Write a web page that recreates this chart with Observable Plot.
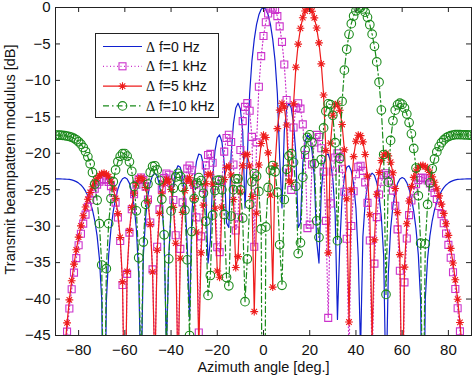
<!DOCTYPE html>
<html><head><meta charset="utf-8">
<script src="https://cdn.jsdelivr.net/npm/d3@7"></script>
<script src="https://cdn.jsdelivr.net/npm/@observablehq/plot@0.6"></script>
<style>body{margin:0;background:#fff} #chart svg{display:block}</style>
</head><body><div id="chart"></div>
<script>
const angles = [-90,-89,-88,-87,-86,-85,-84,-83,-82,-81,-80,-79,-78,-77,-76,-75,-74,-73,-72,-71,-70,-69,-68,-67,-66,-65,-64,-63,-62,-61,-60,-59,-58,-57,-56,-55,-54,-53,-52,-51,-50,-49,-48,-47,-46,-45,-44,-43,-42,-41,-40,-39,-38,-37,-36,-35,-34,-33,-32,-31,-30,-29,-28,-27,-26,-25,-24,-23,-22,-21,-20,-19,-18,-17,-16,-15,-14,-13,-12,-11,-10,-9,-8,-7,-6,-5,-4,-3,-2,-1,0,1,2,3,4,5,6,7,8,9,10,11,12,13,14,15,16,17,18,19,20,21,22,23,24,25,26,27,28,29,30,31,32,33,34,35,36,37,38,39,40,41,42,43,44,45,46,47,48,49,50,51,52,53,54,55,56,57,58,59,60,61,62,63,64,65,66,67,68,69,70,71,72,73,74,75,76,77,78,79,80,81,82,83,84,85,86,87,88,89,90];

// Δf = 0 Hz
const df0Hz = [-23.52,-23.52,-23.52,-23.53,-23.54,-23.56,-23.59,-23.65,-23.75,-23.89,
-24.09,-24.35,-24.72,-25.20,-25.84,-26.68,-27.78,-29.26,-31.34,-34.45,
-40.0,-67.95,-40.28,-33.98,-30.40,-27.94,-26.18,-24.90,-24.03,-23.50,
-23.33,-23.52,-24.13,-25.28,-27.19,-30.38,-36.64,-52.97,-34.13,-28.78,
-25.80,-24.01,-23.03,-22.73,-23.13,-24.35,-26.74,-31.42,-47.01,-34.32,
-27.54,-24.22,-22.44,-21.71,-21.92,-23.22,-26.10,-32.67,-42.80,-28.29,
-23.52,-21.12,-20.10,-20.23,-21.67,-25.19,-35.06,-32.02,-23.40,-19.68,
-17.88,-17.47,-18.41,-21.35,-29.54,-30.17,-20.09,-15.91,-13.80,-13.13,
-13.92,-16.95,-27.5,-20.58,-11.84,-7.28,-4.37,-2.32,-1.0,-0.24,
0,
-0.24,-1.0,-2.32,-4.37,-7.28,-11.84,-20.58,-27.5,-16.95,-13.92,
-13.13,-13.80,-15.91,-20.09,-30.17,-29.54,-21.35,-18.41,-17.47,-17.88,
-19.68,-23.40,-32.02,-35.06,-25.19,-21.67,-20.23,-20.10,-21.12,-23.52,
-28.29,-42.80,-32.67,-26.10,-23.22,-21.92,-21.71,-22.44,-24.22,-27.54,
-34.32,-47.01,-31.42,-26.74,-24.35,-23.13,-22.73,-23.03,-24.01,-25.80,
-28.78,-34.13,-52.97,-36.64,-30.38,-27.19,-25.28,-24.13,-23.52,-23.33,
-23.50,-24.03,-24.90,-26.18,-27.94,-30.40,-33.98,-40.28,-67.95,-40.0,
-34.45,-31.34,-29.26,-27.78,-26.68,-25.84,-25.20,-24.72,-24.35,-24.09,
-23.89,-23.75,-23.65,-23.59,-23.56,-23.54,-23.53,-23.52,-23.52,-23.52];

// Δf = 1 kHz
const df1kHz = [-100,-72.7,-60.3,-53.3,-48.3,-44.47,-41.30,-38.65,-36.37,-34.38,
-32.61,-31.05,-29.65,-28.42,-27.33,-26.37,-25.54,-24.86,-24.30,-23.89,
-23.62,-23.52,-23.61,-23.92,-24.50,-25.41,-26.77,-28.81,-32.04,-38.07,
-59.90,-36.54,-30.89,-27.68,-25.63,-24.30,-23.56,-23.33,-23.65,-24.57,
-26.35,-29.50,-35.93,-49.73,-32.82,-27.70,-24.93,-23.41,-22.77,-22.95,
-24.03,-26.40,-31.24,-49.67,-33.11,-26.74,-23.64,-22.10,-21.68,-22.32,
-24.34,-28.80,-44.59,-31.40,-24.74,-21.66,-20.24,-20.08,-21.29,-24.45,
-32.89,-33.56,-23.75,-19.77,-17.90,-17.46,-18.45,-21.55,-30.59,-28.78,
-19.56,-15.59,-13.64,-13.12,-14.17,-17.75,-32.82,-18.50,-10.88,-6.67,
-3.91,
-2.03,-0.82,-0.16,-0.01,-0.34,-1.19,-2.59,-4.72,-7.83,-12.70,
-22.63,-25.02,-16.46,-13.77,-13.13,-13.87,-16.03,-20.24,-30.27,-29.79,
-21.52,-18.53,-17.47,-17.76,-19.31,-22.52,-29.28,-42.58,-26.88,-22.51,
-20.58,-20.01,-20.50,-22.12,-25.28,-31.72,-48.35,-29.97,-25.20,-22.88,
-21.85,-21.72,-22.41,-23.99,-26.80,-31.96,-48.91,-35.14,-28.76,-25.66,
-23.91,-23.02,-22.73,-22.99,-23.77,-25.13,-27.20,-30.44,-36.12,-59.52,
-37.71,-31.69,-28.49,-26.47,-25.14,-24.24,-23.69,-23.40,-23.33,-23.44,
-23.73,-24.15,-24.72,-25.43,-26.27,-27.24,-28.35,-29.59,-31.00,-32.57,
-34.34,-36.33,-38.62,-41.27,-44.44,-48.28,-53.27,-60.3,-72.7,-100];

// Δf = 5 kHz
const df5kHz = [-100,-71.5,-59.1,-52.1,-47.1,-43.27,-40.11,-37.48,-35.21,-33.24,
-31.50,-29.96,-28.58,-27.38,-26.31,-25.38,-24.59,-23.93,-23.41,-23.03,
-22.80,-22.74,-22.86,-23.21,-23.83,-24.78,-26.19,-28.28,-31.55,-37.64,
-59.52,-36.21,-30.60,-27.44,-25.46,-24.19,-23.50,-23.33,-23.72,-24.70,
-26.56,-29.77,-36.26,-50.12,-33.30,-28.25,-25.55,-24.10,-23.54,-23.80,
-24.96,-27.42,-32.34,-50.86,-34.40,-28.11,-25.11,-23.66,-23.35,-24.11,
-26.22,-30.81,-46.72,-33.65,-27.12,-24.17,-22.89,-22.88,-24.23,-27.55,
-36.16,-37.01,-27.39,-23.62,-21.96,-21.75,-22.99,-26.35,-35.68,-34.18,
-25.31,-21.72,-20.19,-20.15,-21.74,-25.93,-41.72,-28.22,-21.61,-18.66,
-17.50,
-17.83,-19.95,-25.73,-38.36,-21.71,-16.62,-14.08,-13.14,-13.64,-16.13,
-23.81,-24.00,-13.22,-8.20,-5.02,-2.85,-1.40,-0.48,-0.05,-0.06,
-0.51,-1.42,-2.82,-4.85,-7.73,-12.01,-19.64,-33.67,-18.61,-14.78,
-13.35,-13.20,-14.09,-16.05,-19.53,-26.26,-43.15,-25.01,-20.46,-18.35,
-17.52,-17.58,-18.43,-20.16,-23.13,-28.43,-45.52,-31.88,-25.62,-22.63,
-20.99,-20.20,-20.01,-20.36,-21.23,-22.68,-24.83,-28.14,-33.90,-57.36,
-35.62,-29.67,-26.54,-24.58,-23.30,-22.45,-21.94,-21.70,-21.68,-21.84,
-22.17,-22.63,-23.24,-23.98,-24.86,-25.85,-26.98,-28.24,-29.67,-31.26,
-33.05,-35.06,-37.36,-40.02,-43.21,-47.06,-52.05,-59.1,-71.5,-100];

// Δf = 10 kHz
const df10kHz = [-17.50,-17.50,-17.51,-17.54,-17.58,-17.63,-17.70,-17.80,-17.96,-18.15,
-18.42,-18.75,-19.20,-19.76,-20.49,-21.43,-22.63,-24.22,-26.44,-29.66,
-35.33,-63.4,-35.83,-29.66,-26.21,-23.90,-22.29,-21.15,-20.42,-20.05,
-20.04,-20.39,-21.17,-22.47,-24.55,-27.90,-34.34,-50.85,-32.18,-27.01,
-24.22,-22.61,-21.81,-21.71,-22.29,-23.71,-26.30,-31.18,-46.97,-34.48,
-27.91,-24.81,-23.25,-22.74,-23.17,-24.69,-27.81,-34.62,-45.00,-30.74,
-26.22,-24.09,-23.34,-23.75,-25.49,-29.32,-39.50,-36.77,-28.49,-25.12,
-23.70,-23.67,-25.02,-28.39,-37.04,-38.18,-28.61,-24.99,-23.50,-23.50,
-25.03,-28.88,-40.36,-34.50,-27.00,-23.92,-22.79,-23.15,-25.23,-30.38,
-100,
-30.10,-24.69,-22.33,-21.68,-22.53,-25.34,-32.55,-38.12,-26.35,-22.20,
-20.36,-20.05,-21.24,-24.54,-33.76,-32.29,-23.29,-19.55,-17.83,-17.47,
-18.48,-21.43,-29.27,-31.53,-20.86,-16.52,-14.22,-13.22,-13.33,-14.78,
-18.55,-31.99,-20.71,-12.88,-8.60,-5.73,-3.68,-2.22,-1.17,-0.46,
-0.09,0,-0.19,-0.64,-1.35,-2.36,-3.66,-5.33,-7.46,-10.24,
-14.07,-20.17,-39.36,-23.96,-18.23,-15.54,-14.08,-13.35,-13.13,-13.29,
-13.79,-14.62,-15.79,-17.33,-19.34,-22.02,-25.83,-32.33,-60.2,-32.41,
-27.02,-24.06,-22.13,-20.78,-19.81,-19.08,-18.55,-18.17,-17.88,-17.70,
-17.58,-17.50,-17.45,-17.44,-17.45,-17.46,-17.48,-17.48,-17.50,-17.50];

const seriesNames = ["\u0394 f=0 Hz", "\u0394 f=1 kHz", "\u0394 f=5 kHz", "\u0394 f=10 kHz"];
const xTicks = [-80, -60, -40, -20, 0, 20, 40, 60, 80];
const yTicks = [0, -5, -10, -15, -20, -25, -30, -35, -40, -45];

const BLUE = "#1020d0", MAG = "#cc33cc", RED = "#ee1c1c", GRN = "#1a8a1a";

const rows = (vals) => angles.map((a, i) => ({angle: a, db: vals[i]}));
const r0 = rows(df0Hz), r1 = rows(df1kHz), r5 = rows(df5kHz), r10 = rows(df10kHz);

// 8-arm asterisk like MATLAB '*'
const asterisk8 = {
  draw(ctx, size) {
    const r = Math.sqrt(size / Math.PI);
    const d = r * Math.SQRT1_2;
    ctx.moveTo(-r, 0); ctx.lineTo(r, 0);
    ctx.moveTo(0, -r); ctx.lineTo(0, r);
    ctx.moveTo(-d, -d); ctx.lineTo(d, d);
    ctx.moveTo(-d, d); ctx.lineTo(d, -d);
  }
};

const tx = 5 / (416 / 180); // 5px in degrees
const ty = 5 / (328 / 45);  // 5px in dB

const plot = Plot.plot({
  width: 474, height: 376,
  marginLeft: 55, marginRight: 3, marginTop: 7, marginBottom: 41,
  style: {fontFamily: "'Liberation Sans', Arial, sans-serif", fontSize: "15px", background: "white", color: "#111", overflow: "visible"},
  x: {domain: [-90, 90], label: null},
  y: {domain: [-45, 0], label: null},
  marks: [
    Plot.line(r0, {x: "angle", y: "db", stroke: BLUE, strokeWidth: 1.2, clip: true}),
    Plot.line(r1, {x: "angle", y: "db", stroke: MAG, strokeWidth: 1.2, strokeDasharray: "1,2.5", clip: true}),
    Plot.dot(r1, {x: "angle", y: "db", symbol: "square", r: 3.95, stroke: MAG, strokeWidth: 1.1, fill: "none", clip: true}),
    Plot.line(r5, {x: "angle", y: "db", stroke: RED, strokeWidth: 1.2, clip: true}),
    Plot.dot(r5, {x: "angle", y: "db", symbol: asterisk8, r: 3.9, stroke: RED, strokeWidth: 1.1, fill: "none", clip: true}),
    Plot.line(r10, {x: "angle", y: "db", stroke: GRN, strokeWidth: 1.2, strokeDasharray: "6,3,1.5,3", clip: true}),
    Plot.dot(r10, {x: "angle", y: "db", symbol: "circle", r: 4.3, stroke: GRN, strokeWidth: 1.1, fill: "none", clip: true}),
    // inward ticks on all four sides
    Plot.ruleX(xTicks, {x: d => d, y1: -45, y2: -45 + ty, stroke: "#222"}),
    Plot.ruleX(xTicks, {x: d => d, y1: 0, y2: -ty, stroke: "#222"}),
    Plot.ruleY(yTicks, {y: d => d, x1: -90, x2: -90 + tx, stroke: "#222"}),
    Plot.ruleY(yTicks, {y: d => d, x1: 90, x2: 90 - tx, stroke: "#222"}),
    Plot.frame({stroke: "#222", strokeWidth: 1}),
    Plot.axisX(xTicks, {tickSize: 0, tickPadding: 9, fontSize: 15, tickFormat: d3.format("d")}),
    Plot.axisY(yTicks, {tickSize: 0, tickPadding: 5, fontSize: 15, tickFormat: d3.format("d")}),
    Plot.text(["Azimuth angle [deg.]"], {frameAnchor: "bottom", textAnchor: "middle", lineAnchor: "middle", dy: 32, fontSize: 14.5, fill: "#111"}),
    Plot.text(["Transmit beampattern modulus [dB]"], {frameAnchor: "left", textAnchor: "middle", lineAnchor: "middle", rotate: -90, dx: -45, dy: -12, fontSize: 14.5, fill: "#111"})
  ]
});
document.getElementById("chart").appendChild(plot);

// Legend (inside axes, upper left)
const svg = d3.select(plot);
const lg = svg.append("g").attr("class", "legend").attr("text-anchor", "start");
lg.append("rect").attr("x", 95.5).attr("y", 33.5).attr("width", 123).attr("height", 84)
  .attr("fill", "white").attr("stroke", "#222").attr("stroke-width", 1);
const legendRows = [
  {name: seriesNames[0], color: BLUE, dash: null, marker: null},
  {name: seriesNames[1], color: MAG, dash: "1,2.5", marker: "square"},
  {name: seriesNames[2], color: RED, dash: null, marker: "star"},
  {name: seriesNames[3], color: GRN, dash: "6,3,1.5,3", marker: "circle"}
];
legendRows.forEach((d, i) => {
  const y = 46.5 + i * 19.8;
  lg.append("line").attr("x1", 103).attr("x2", 142).attr("y1", y).attr("y2", y)
    .attr("stroke", d.color).attr("stroke-width", 1.2).attr("stroke-dasharray", d.dash);
  const mx = 122.5;
  if (d.marker === "square") {
    lg.append("rect").attr("x", mx - 3.5).attr("y", y - 3.5).attr("width", 7).attr("height", 7)
      .attr("fill", "none").attr("stroke", d.color).attr("stroke-width", 1.1);
  } else if (d.marker === "circle") {
    lg.append("circle").attr("cx", mx).attr("cy", y).attr("r", 4.3)
      .attr("fill", "none").attr("stroke", d.color).attr("stroke-width", 1.1);
  } else if (d.marker === "star") {
    const p = d3.path(); asterisk8.draw(p, Math.PI * 3.9 * 3.9);
    lg.append("path").attr("transform", `translate(${mx},${y})`).attr("d", p.toString())
      .attr("fill", "none").attr("stroke", d.color).attr("stroke-width", 1.1);
  }
  const t = lg.append("text").attr("x", 146).attr("y", y + 5).attr("text-anchor", "start")
    .attr("font-size", 14).attr("fill", "#111")
    .attr("font-family", "'Liberation Sans', Arial, sans-serif");
  t.append("tspan").attr("font-family", "'Liberation Serif', 'Times New Roman', serif").text(d.name.slice(0, 1));
  t.append("tspan").text(d.name.slice(1));
});
</script>
</body></html>
